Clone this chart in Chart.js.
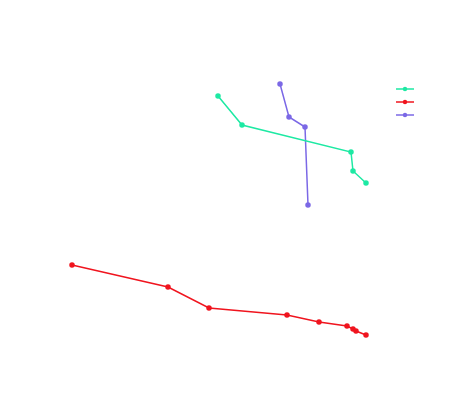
<!DOCTYPE html>
<html>
<head>
<meta charset="utf-8">
<script src="https://cdn.jsdelivr.net/npm/chart.js@4"></script>
<style>
  html, body { margin: 0; padding: 0; background: #fff; }
  #wrap { width: 474px; height: 406px; }
</style>
</head>
<body>
<div id="wrap"><canvas id="lineChart"></canvas></div>
<script>
// values (x to the right, y upwards)
var greenX = [218, 242, 351, 353, 366];
var greenY = [310, 281, 254, 235, 223];
var redX = [72, 168, 209, 287, 319, 347, 353, 356, 366];
var redY = [141, 119, 98, 91, 84, 80, 77, 75, 71];
var purpleX = [280, 289, 305, 308];
var purpleY = [322, 289, 279, 201];

var seriesNames = ['', '', ''];
var seriesColors = ['#1de9a3', '#f0141e', '#7b68e6'];

function toPoints(xs, ys) {
  return xs.map(function (x, i) { return { x: x, y: ys[i] }; });
}

// small legend on the right: a short line with a dot for each series
var sideLegend = {
  id: 'sideLegend',
  afterDraw: function (chart) {
    var c = chart.ctx;
    chart.data.datasets.forEach(function (ds, i) {
      var y = 89 + i * 13;
      c.save();
      c.strokeStyle = ds.borderColor;
      c.fillStyle = ds.borderColor;
      c.lineWidth = 1.5;
      c.beginPath();
      c.moveTo(396, y);
      c.lineTo(414, y);
      c.stroke();
      c.beginPath();
      c.arc(405, y, 2.2, 0, Math.PI * 2);
      c.fill();
      c.fillStyle = '#444';
      c.font = '11px "DejaVu Sans"';
      c.textBaseline = 'middle';
      c.fillText(ds.label, 420, y);
      c.restore();
    });
  }
};

var ctx = document.getElementById('lineChart').getContext('2d');
var chart = new Chart(ctx, {
  type: 'scatter',
  plugins: [sideLegend],
  data: {
    datasets: [
      { label: seriesNames[0], data: toPoints(greenX, greenY) },
      { label: seriesNames[1], data: toPoints(redX, redY) },
      { label: seriesNames[2], data: toPoints(purpleX, purpleY) }
    ].map(function (ds, i) {
      ds.showLine = true;
      ds.borderColor = seriesColors[i];
      ds.backgroundColor = seriesColors[i];
      ds.borderWidth = 1.5;
      ds.pointRadius = 2;
      ds.pointHoverRadius = 2;
      ds.tension = 0;
      return ds;
    })
  },
  options: {
    responsive: true,
    maintainAspectRatio: false,
    animation: false,
    layout: { padding: 0, autoPadding: false },
    plugins: {
      legend: { display: false },
      tooltip: { enabled: false }
    },
    scales: {
      x: { type: 'linear', min: 0, max: 474, display: false },
      y: { type: 'linear', min: 0, max: 406, display: false }
    }
  }
});
</script>
</body>
</html>
